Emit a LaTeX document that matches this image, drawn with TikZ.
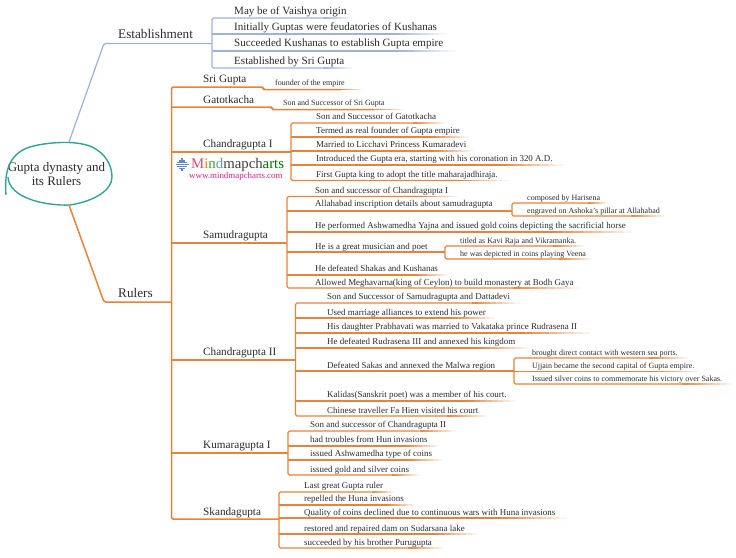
\documentclass[tikz,border=0pt]{standalone}
\usepackage{fontspec}
\setmainfont{Liberation Serif}
\definecolor{bluel}{HTML}{9DB2D8}
\definecolor{orl}{HTML}{E8833A}
\definecolor{teall}{HTML}{2FA597}
\definecolor{inkt}{HTML}{2B2B2B}
\definecolor{knot}{HTML}{5B8CC8}
\tikzset{
 lbl/.style={anchor=west,inner sep=0pt,text=inkt,text height=.68em,text depth=.2em,yshift=-1.5pt},
 sA/.style={font=\fontsize{11.05}{13}\selectfont},
 sB/.style={font=\fontsize{8.95}{11}\selectfont},
 sC/.style={font=\fontsize{8}{10}\selectfont},
 sH/.style={font=\fontsize{11.2}{13}\selectfont},
 sE/.style={font=\fontsize{13.2}{15}\selectfont},
 orconn/.style={draw=orl,line width=1.2pt,rounded corners=1.5pt},
 blconn/.style={draw=bluel,line width=1.2pt,rounded corners=1.5pt},
 orbig/.style={draw=orl,line width=1.5pt,rounded corners=1.5pt},
}
% leaf: name, col, style, xText, yText, yLine, xEnd, text
\newcommand\leaf[8]{%
 \node[lbl,#3] (#1) at (#4,#5) {#8};
 \coordinate (#1-e) at (#7,#6);
 \coordinate (#1-m) at ({#7-0.25*(#7-#4)},#6);
 \foreach \p in {0,...,7}{%
  \pgfmathtruncatemacro\pc{94-\p*12}%
  \draw[#2!\pc!white,line width=1.1pt] ({#7-0.25*(#7-#4)*(1-\p/8)},#6) -- ({#7-0.25*(#7-#4)*(1-(\p+1)/8)},#6);
 }%
}
\newcommand\spine[4]{% colour style, junction, first, last
 \draw[#1] (#3-m) -- (#3-m -| #2) -- (#4-m -| #2) -- (#4-m);
}
\newcommand\rib[3]{\draw[#1] (#2 |- #3-m) -- (#3-m);}
\begin{document}
\begin{tikzpicture}[x=1pt,y=-1pt]
\useasboundingbox (0,0) rectangle (736,557);
% root
\node[inner sep=0pt,align=center,text=inkt,font=\fontsize{13}{15}\selectfont] (root) at (56.5,174) {Gupta dynasty and\\[-1pt]its Rulers};
\draw[teall,line width=1.4pt] (6,195) .. controls (4,170) and (10,155) .. (27,148)
  .. controls (40,143) and (75,139) .. (92,147)
  .. controls (105,153) and (112,165) .. (112,177)
  .. controls (112,190) and (95,201) .. (70,205)
  .. controls (45,206) and (9,198) .. (8,177);
\coordinate (rt) at (69,142);
\coordinate (rb) at (69,205);
% Establishment
\node[lbl,sE] (est) at (118,35) {Establishment};
\coordinate (estJ) at (104,43.5);
\coordinate (estB) at (212,43.5);
\draw[blconn] (rt) -- (estJ) -- (estB);
\leaf{e1}{bluel}{sA}{234}{11}{18}{352}{May be of Vaishya origin}
\leaf{e2}{bluel}{sA}{234}{27}{34}{447}{Initially Guptas were feudatories of Kushanas}
\leaf{e3}{bluel}{sA}{234}{43}{51}{455}{Succeeded Kushanas to establish Gupta empire}
\leaf{e4}{bluel}{sA}{234}{61}{68}{352}{Established by Sri Gupta}
\spine{blconn}{estB}{e1}{e4}
\rib{blconn}{estB}{e2}
\rib{blconn}{estB}{e3}
% Rulers
\node[lbl,sE] (rul) at (118,294) {Rulers};
\coordinate (rulJ) at (104,302);
\coordinate (rulB) at (171.5,302);
\draw[orbig] (rb) -- (rulJ) -- (rulB);
% Sri Gupta
\node[lbl,sH] (sri) at (203,79) {Sri Gupta};
\coordinate (sriA) at (263,87);
\leaf{sriL}{orl}{sC}{275}{82}{89.5}{363}{founder of the empire}
\node[lbl,sH] (gat) at (203,100) {Gatotkacha};
\coordinate (gatA) at (272,107);
\leaf{gatL}{orl}{sC}{283}{102}{109.5}{405}{Son and Successor of Sri Gupta}
\draw[orbig] (sriL-m) -- (sriA |- sriL-m) -- (sriA) -- (rulB |- sriA) -- (rulB |- 0,519) -- (279,519);
\draw[orbig] (rulB |- gatA) -- (gatA) -- (gatA |- gatL-m) -- (gatL-m);
% Chandragupta I
\node[lbl,sH] (c1) at (203,144) {Chandragupta I};
\coordinate (c1B) at (291,152);
\draw[orbig] (rulB |- c1B) -- (c1B);
\leaf{c1a}{orl}{sB}{316}{116}{123}{445}{Son and Successor of Gatotkacha}
\leaf{c1b}{orl}{sB}{316}{130}{137}{469}{Termed as real founder of Gupta empire}
\leaf{c1c}{orl}{sB}{316}{144}{151}{473}{Married to Licchavi Princess Kumaradevi}
\leaf{c1d}{orl}{sB}{316}{158}{165}{563}{Introduced the Gupta era, starting with his coronation in 320 A.D.}
\leaf{c1e}{orl}{sB}{316}{174}{180.5}{508}{First Gupta king to adopt the title maharajadhiraja.}
\spine{orconn}{c1B}{c1a}{c1e}
\rib{orconn}{c1B}{c1b}\rib{orconn}{c1B}{c1c}\rib{orconn}{c1B}{c1d}
% logo
\foreach \i/\j in {0/-3,-1/-2,0/-2,1/-2,-2/-1,-1/-1,0/-1,1/-1,2/-1,-3/0,-2/0,-1/0,0/0,1/0,2/0,3/0,-2/1,-1/1,0/1,1/1,2/1,-1/2,0/2,1/2,0/3}
  \fill[knot] ({182+\i*1.9-.8},{164.5+\j*1.9-.8}) rectangle ++(1.6,1.6);
\node[inner sep=0pt,anchor=west,font=\fontsize{14.8}{16}\selectfont] (logoA) at (191,164.5) {\textcolor{red!55!violet!70}{M}\textcolor{orange}{i}\textcolor{green!55!black!80}{n}\textcolor{cyan!60!black!80}{d}\textcolor{black!75}{map}\textcolor{black!75}{ch}\textcolor{green!45!black}{arts}};
\node[inner sep=0pt,anchor=west,text=magenta!70!violet,font=\fontsize{8.9}{10}\selectfont] (logoB) at (189,176) {www.mindmapcharts.com};
% Samudragupta
\node[lbl,sH] (sa) at (203,235) {Samudragupta};
\coordinate (saB) at (287,243);
\draw[orbig] (rulB |- saB) -- (saB);
\leaf{saa}{orl}{sB}{315}{189.5}{196.5}{458}{Son and successor of Chandragupta I}
\leaf{sab}{orl}{sB}{315}{203}{211}{512}{Allahabad inscription details about samudragupta}
\leaf{sac}{orl}{sB}{315}{225}{232}{633}{He performed Ashwamedha Yajna and issued gold coins depicting the sacrificial horse}
\leaf{sad}{orl}{sB}{315}{246}{252}{445}{He is a great musician and poet}
\leaf{sae}{orl}{sB}{315}{268}{275}{448}{He defeated Shakas and Kushanas}
\leaf{saf}{orl}{sB}{315}{282}{288}{579}{Allowed Meghavarna(king of Ceylon) to build monastery at Bodh Gaya}
\spine{orconn}{saB}{saa}{saf}
\rib{orconn}{saB}{sab}\rib{orconn}{saB}{sac}\rib{orconn}{saB}{sad}\rib{orconn}{saB}{sae}
\draw[orconn] (sab-m) -- (sab-e);
\draw[orconn] (sad-m) -- (sad-e);
\coordinate (sabB) at (512,211);
\coordinate (sadB) at (445,252);
\leaf{sab1}{orl}{sC}{527}{197}{203}{608}{composed by Harisena}
\leaf{sab2}{orl}{sC}{527}{210}{216}{665}{engraved on Ashoka's pillar at Allahabad}
\spine{orconn}{sabB}{sab1}{sab2}
\leaf{sad1}{orl}{sC}{460}{240}{246}{584}{titled as Kavi Raja and Vikramanka.}
\leaf{sad2}{orl}{sC}{460}{253}{259}{592}{he was depicted in coins playing Veena}
\spine{orconn}{sadB}{sad1}{sad2}
% Chandragupta II
\node[lbl,sH] (cc) at (203,352) {Chandragupta II};
\coordinate (ccB) at (295.5,360);
\draw[orbig] (rulB |- ccB) -- (ccB);
\leaf{cca}{orl}{sB}{327}{296}{303}{520}{Son and Successor of Samudragupta and Dattadevi}
\leaf{ccb}{orl}{sB}{327}{312}{318}{495}{Used marriage alliances to extend his power}
\leaf{ccc}{orl}{sB}{327}{326}{333}{590}{His daughter Prabhavati was married to Vakataka prince Rudrasena II}
\leaf{ccd}{orl}{sB}{327}{341}{348}{528}{He defeated Rudrasena III and annexed his kingdom}
\leaf{cce}{orl}{sB}{327}{365}{371}{514}{Defeated Sakas and annexed the Malwa region}
\leaf{ccf}{orl}{sB}{327}{394}{401}{515}{Kalidas(Sanskrit poet) was a member of his court.}
\leaf{ccg}{orl}{sB}{327}{410}{416}{487}{Chinese traveller Fa Hien visited his court}
\spine{orconn}{ccB}{cca}{ccg}
\rib{orconn}{ccB}{ccb}\rib{orconn}{ccB}{ccc}\rib{orconn}{ccB}{ccd}\rib{orconn}{ccB}{cce}\rib{orconn}{ccB}{ccf}
\draw[orconn] (cce-m) -- (cce-e);
\coordinate (cceB) at (514,371);
\leaf{cce1}{orl}{sC}{532}{352}{358}{688}{brought direct contact with western sea ports.}
\leaf{cce2}{orl}{sC}{532}{365}{371.5}{700}{Ujjain became the second capital of Gupta empire.}
\leaf{cce3}{orl}{sC}{532}{378}{384}{732}{Issued silver coins to commemorate his victory over Sakas.}
\spine{orconn}{cceB}{cce1}{cce3}
\rib{orconn}{cceB}{cce2}
% Kumaragupta I
\node[lbl,sH] (ku) at (203,445) {Kumaragupta I};
\coordinate (kuB) at (288,453);
\draw[orbig] (rulB |- kuB) -- (kuB);
\leaf{kua}{orl}{sB}{310}{424}{431}{456}{Son and successor of Chandragupta II}
\leaf{kub}{orl}{sB}{310}{439}{446}{438}{had troubles from Hun invasions}
\leaf{kuc}{orl}{sB}{310}{453}{460}{442}{issued Ashwamedha type of coins}
\leaf{kud}{orl}{sB}{310}{469}{475}{419}{issued gold and silver coins}
\spine{orconn}{kuB}{kua}{kud}
\rib{orconn}{kuB}{kub}\rib{orconn}{kuB}{kuc}
% Skandagupta
\node[lbl,sH] (sk) at (203,512) {Skandagupta};
\coordinate (skB) at (279,519);
\leaf{ska}{orl}{sB}{304}{485}{492}{394}{Last great Gupta ruler}
\leaf{skb}{orl}{sB}{304}{498}{505}{415}{repelled the Huna invasions}
\leaf{skc}{orl}{sB}{304}{512}{518}{567}{Quality of coins declined due to continuous wars with Huna invasions}
\leaf{skd}{orl}{sB}{304}{528}{534}{477}{restored and repaired dam on Sudarsana lake}
\leaf{ske}{orl}{sB}{304}{542}{548}{443}{succeeded by his brother Purugupta}
\spine{orconn}{skB}{ska}{ske}
\rib{orconn}{skB}{skb}\rib{orconn}{skB}{skc}\rib{orconn}{skB}{skd}
\end{tikzpicture}
\end{document}
